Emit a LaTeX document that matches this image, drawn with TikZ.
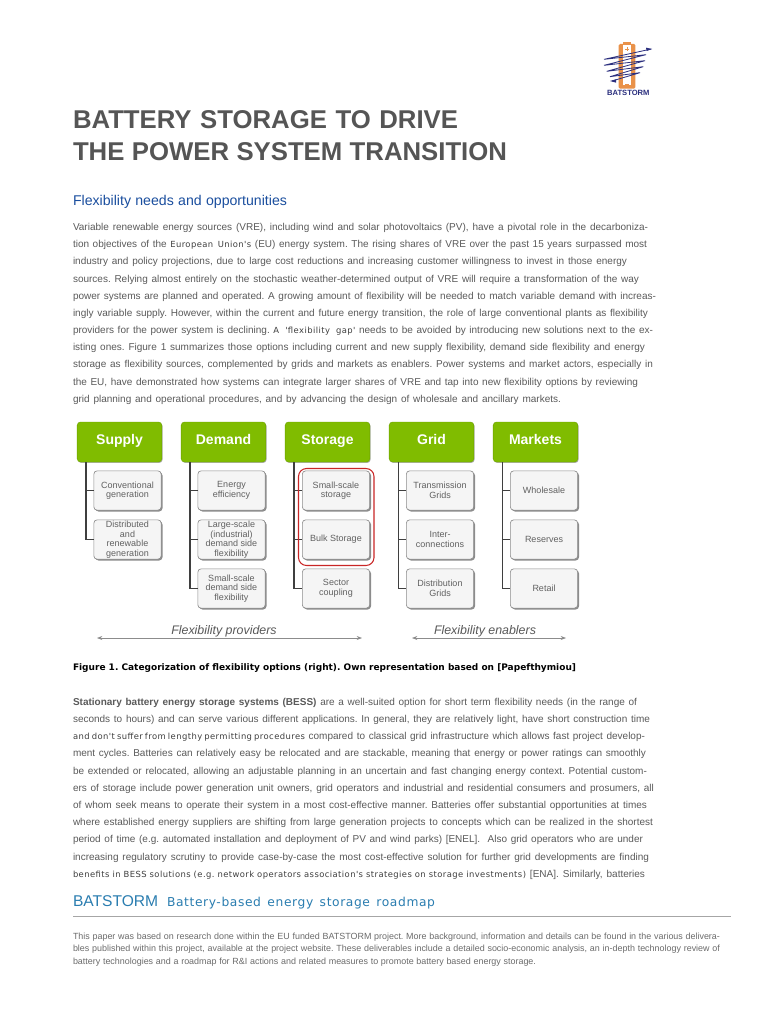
\documentclass[tikz,border=0pt]{standalone}
\usepackage{fontspec}
\usetikzlibrary{arrows.meta,shadows}
\setmainfont{Liberation Sans}
\newfontfamily\dvfont{DejaVu Sans}
\newfontfamily\dvspaced[LetterSpace=5]{DejaVu Sans}
\definecolor{bodyc}{HTML}{5A5A5A}
\definecolor{titlec}{HTML}{555555}
\definecolor{bluec}{HTML}{1A4E9E}
\definecolor{headc}{HTML}{2A7DB0}
\definecolor{greenc}{HTML}{80BC00}
\definecolor{darkc}{HTML}{3F3F3F}
\definecolor{childc}{HTML}{F5F5F5}
\definecolor{navyc}{HTML}{2B2F7E}
\definecolor{orangec}{HTML}{E9924A}
\newcommand\fitsp{\frenchspacing\spaceskip=.278em plus 1em minus .12em\relax}
\newcommand\dv[2]{\hbox to \dimexpr #1pt*3/4\relax{\dvspaced\fontsize{6.3}{7}\selectfont\fitsp\color{darkc}#2}}
\newcommand\tl[6][bodyfont]{\node[#1,anchor=base west,inner sep=0pt,outer sep=0pt] (#2) at (#3,#4) {\fitsp\hbox to \dimexpr(#5pt - #3pt)*3/4\relax{\fitsp #6}};}
\tikzset{
  bodyfont/.style={font=\fontsize{7.5}{8}\selectfont,text=bodyc},
  footfont/.style={font=\fontsize{6.7}{8}\selectfont,text=bodyc!90},
  titlefont/.style={font=\fontsize{19.3}{22}\selectfont\bfseries,text=titlec},
  subfont/.style={font=\fontsize{10.6}{13}\selectfont,text=bluec},
  capfont/.style={font=\dvfont\bfseries\fontsize{6.75}{8}\selectfont,text=black},
  bat1font/.style={font=\fontsize{11.7}{13}\selectfont,text=headc},
  bat2font/.style={font=\dvspaced\fontsize{9.2}{11}\selectfont,text=headc},
  header/.style={draw=greenc!85!black,line width=0.3pt,fill=greenc,rounded corners=2.5pt,minimum width=63.5pt,minimum height=30pt,inner sep=0pt,
    font=\fontsize{10.5}{12}\selectfont\bfseries,text=white,text height=7.6pt,text depth=3.2pt,
    drop shadow={shadow xshift=0.6pt,shadow yshift=-0.7pt,fill=black,opacity=0.3}},
  child/.style={draw=black!45,line width=0.5pt,fill=childc,rounded corners=2.5pt,minimum width=50.5pt,minimum height=29.5pt,inner sep=0pt,
    align=center,font=\fontsize{6.75}{7.1}\selectfont,text=black!62,
    drop shadow={shadow xshift=1pt,shadow yshift=-1pt,fill=black,opacity=0.45}},
  tree/.style={draw=darkc,line width=1pt},
  span/.style={draw=black!45,line width=0.5pt,{Stealth[length=4pt,width=3pt]}-{Stealth[length=4pt,width=3pt]}},
  spanlabel/.style={font=\fontsize{9.3}{11}\selectfont\itshape,text=black!65,inner sep=0pt},
  coil/.style={draw=navyc,line width=0.6pt},
}
\begin{document}
\begin{tikzpicture}[x=0.75pt,y=-0.75pt]
\useasboundingbox[fill=white] (0,0) rectangle (768,1024);
% logo
\begin{scope}[shift={(590,30)},x=0.25pt,y=-0.25pt]
  \fill[orangec,rounded corners=1pt] (86,42) rectangle (136,176);
  \fill[orangec] (100,35) rectangle (122,44);
  \fill[white] (100,46) rectangle (123,166);
  \draw[orangec,line width=0.4pt] (112,52) -- (112,64) (106,58) -- (118,58) (106,162) -- (118,162);
  \draw[coil] (184,57) -- (42,88) -- (168,74) -- (42,106) -- (165,92) -- (50,124) -- (160,110) -- (60,140) -- (150,128) -- (66,153);
  \fill[navyc] (186,57) -- (168,53) -- (170,63) -- cycle;
  \fill[navyc] (60,153) -- (78,148) -- (78,158) -- cycle;
  \node[font=\fontsize{5.7}{6}\selectfont\bfseries,text=navyc,inner sep=0pt] (logotext) at (115,190) {BATSTORM};
\end{scope}
% title
\tl[titlefont]{t1}{73}{128.5}{458}{BATTERY STORAGE TO DRIVE}
\tl[titlefont]{t2}{73}{160.5}{507}{THE POWER SYSTEM TRANSITION}
\tl[subfont]{sub}{73}{205}{287}{Flexibility needs and opportunities}
% paragraph 1
\tl{a1}{73}{230.5}{648}{Variable renewable energy sources (VRE), including wind and solar photovoltaics (PV), have a pivotal role in the decarboniza-}
\tl{a2}{73}{247.7}{647}{tion objectives of the \dv{81}{European Union's} (EU) energy system. The rising shares of VRE over the past 15 years surpassed most}
\tl{a3}{73}{264.9}{627}{industry and policy projections, due to large cost reductions and increasing customer willingness to invest in those energy}
\tl{a4}{73}{282.0}{639}{sources. Relying almost entirely on the stochastic weather-determined output of VRE will require a transformation of the way}
\tl{a5}{73}{299.2}{656}{power systems are planned and operated. A growing amount of flexibility will be needed to match variable demand with increas-}
\tl{a6}{73}{316.4}{648}{ingly variable supply. However, within the current and future energy transition, the role of large conventional plants as flexibility}
\tl{a7}{73}{333.6}{653}{providers for the power system is declining. \dv{82}{A 'flexibility gap'} needs to be avoided by introducing new solutions next to the ex-}
\tl{a8}{73}{350.8}{645}{isting ones. Figure 1 summarizes those options including current and new supply flexibility, demand side flexibility and energy}
\tl{a9}{73}{367.9}{653}{storage as flexibility sources, complemented by grids and markets as enablers. Power systems and market actors, especially in}
\tl{a10}{73}{385.1}{638}{the EU, have demonstrated how systems can integrate larger shares of VRE and tap into new flexibility options by reviewing}
\tl{a11}{73}{402.3}{561}{grid planning and operational procedures, and by advancing the design of wholesale and ancillary markets.}
% diagram headers
\node[header] (supply) at (119.5,442) {Supply};
\node[header] (demand) at (223.5,442) {Demand};
\node[header] (storage) at (327.5,442) {Storage};
\node[header] (grid) at (431.5,442) {Grid};
\node[header] (markets) at (535.5,442) {Markets};
% trunks
\coordinate (tr1) at (86,462);
\coordinate (tr2) at (190,462);
\coordinate (tr3) at (294,462);
\coordinate (tr4) at (398.5,462);
\coordinate (tr5) at (502.5,462);
% children
\node[child] (s1) at (127.5,490.5) {Conventional\\generation};
\node[child] (s2) at (127.5,539.5) {Distributed\\and\\renewable\\generation};
\node[child] (d1) at (231.5,490.5) {Energy\\efficiency};
\node[child] (d2) at (231.5,539.5) {Large-scale\\(industrial)\\demand side\\flexibility};
\node[child] (d3) at (231.5,588.5) {Small-scale\\demand side\\flexibility};
\node[child] (o1) at (336,490.5) {Small-scale\\storage};
\node[child] (o2) at (336,539.5) {Bulk Storage};
\node[child] (o3) at (336,588.5) {Sector\\coupling};
\node[child] (g1) at (440,490.5) {Transmission\\Grids};
\node[child] (g2) at (440,539.5) {Inter-\\connections};
\node[child] (g3) at (440,588.5) {Distribution\\Grids};
\node[child] (m1) at (544,490.5) {Wholesale};
\node[child] (m2) at (544,539.5) {Reserves};
\node[child] (m3) at (544,588.5) {Retail};
% connectors
\draw[tree] (tr1) |- (s1.west);
\draw[tree] (tr1) |- (s2.west);
\draw[tree] (tr2) |- (d1.west);
\draw[tree] (tr2) |- (d2.west);
\draw[tree] (tr2) |- (d3.west);
\draw[tree] (tr3) |- (o1.west);
\draw[tree] (tr3) |- (o2.west);
\draw[tree] (tr3) |- (o3.west);
\draw[tree] (tr4) |- (g1.west);
\draw[tree] (tr4) |- (g2.west);
\draw[tree] (tr4) |- (g3.west);
\draw[tree] (tr5) |- (m1.west);
\draw[tree] (tr5) |- (m2.west);
\draw[tree] (tr5) |- (m3.west);
% red highlight
\draw[draw=red!75!black!85,line width=0.8pt,rounded corners=6pt] (298.5,468.5) rectangle (374,565.5);
% spans
\coordinate (p1) at (97,638);
\coordinate (p2) at (362,638);
\coordinate (e1) at (412,638);
\coordinate (e2) at (566,638);
\draw[span] (p1) -- (p2);
\draw[span] (e1) -- (e2);
\node[spanlabel] (plabel) at (224,631.5) {Flexibility providers};
\node[spanlabel] (elabel) at (485,631.5) {Flexibility enablers};
% caption
\tl[capfont]{cap}{73}{670.5}{576}{Figure 1. Categorization of flexibility options (right). Own representation based on [Papefthymiou]}
% paragraph 2
\tl{b1}{73}{705.3}{637}{{\bfseries Stationary battery energy storage systems (BESS)} are a well-suited option for short term flexibility needs (in the range of}
\tl{b2}{73}{722.5}{650}{seconds to hours) and can serve various different applications. In general, they are relatively light, have short construction time}
\tl{b3}{73}{739.7}{645}{\dv{232}{and don't suffer from lengthy permitting procedures} compared to classical grid infrastructure which allows fast project develop-}
\tl{b4}{73}{756.9}{646}{ment cycles. Batteries can relatively easy be relocated and are stackable, meaning that energy or power ratings can smoothly}
\tl{b5}{73}{774.1}{647}{be extended or relocated, allowing an adjustable planning in an uncertain and fast changing energy context. Potential custom-}
\tl{b6}{73}{791.3}{654}{ers of storage include power generation unit owners, grid operators and industrial and residential consumers and prosumers, all}
\tl{b7}{73}{808.5}{647}{of whom seek means to operate their system in a most cost-effective manner. Batteries offer substantial opportunities at times}
\tl{b8}{73}{825.7}{653}{where established energy suppliers are shifting from large generation projects to concepts which can be realized in the shortest}
\tl{b9}{73}{842.9}{643}{period of time (e.g. automated installation and deployment of PV and wind parks) [ENEL].\ \ Also grid operators who are under}
\tl{b10}{73}{860.1}{649}{increasing regulatory scrutiny to provide case-by-case the most cost-effective solution for further grid developments are finding}
\tl{b11}{73}{877.3}{645}{\dv{453}{benefits in BESS solutions (e.g. network operators association's strategies on storage investments)} [ENA]. Similarly, batteries}
% footer
\tl[bat1font]{h1}{73}{906}{160}{BATSTORM}
\tl[bat2font]{h2}{167}{906}{435}{Battery-based energy storage roadmap}
\coordinate (r1) at (73,916.7);
\coordinate (r2) at (731,916.7);
\draw[draw=black!35,line width=0.8pt] (r1) -- (r2);
\tl[footfont]{f1}{73}{939}{720}{This paper was based on research done within the EU funded BATSTORM project. More background, information and details can be found in the various delivera-}
\tl[footfont]{f2}{73}{951.7}{720}{bles published within this project, available at the project website. These deliverables include a detailed socio-economic analysis, an in-depth technology review of}
\tl[footfont]{f3}{73}{964.4}{536}{battery technologies and a roadmap for R\&I actions and related measures to promote battery based energy storage.}
\end{tikzpicture}
\end{document}
